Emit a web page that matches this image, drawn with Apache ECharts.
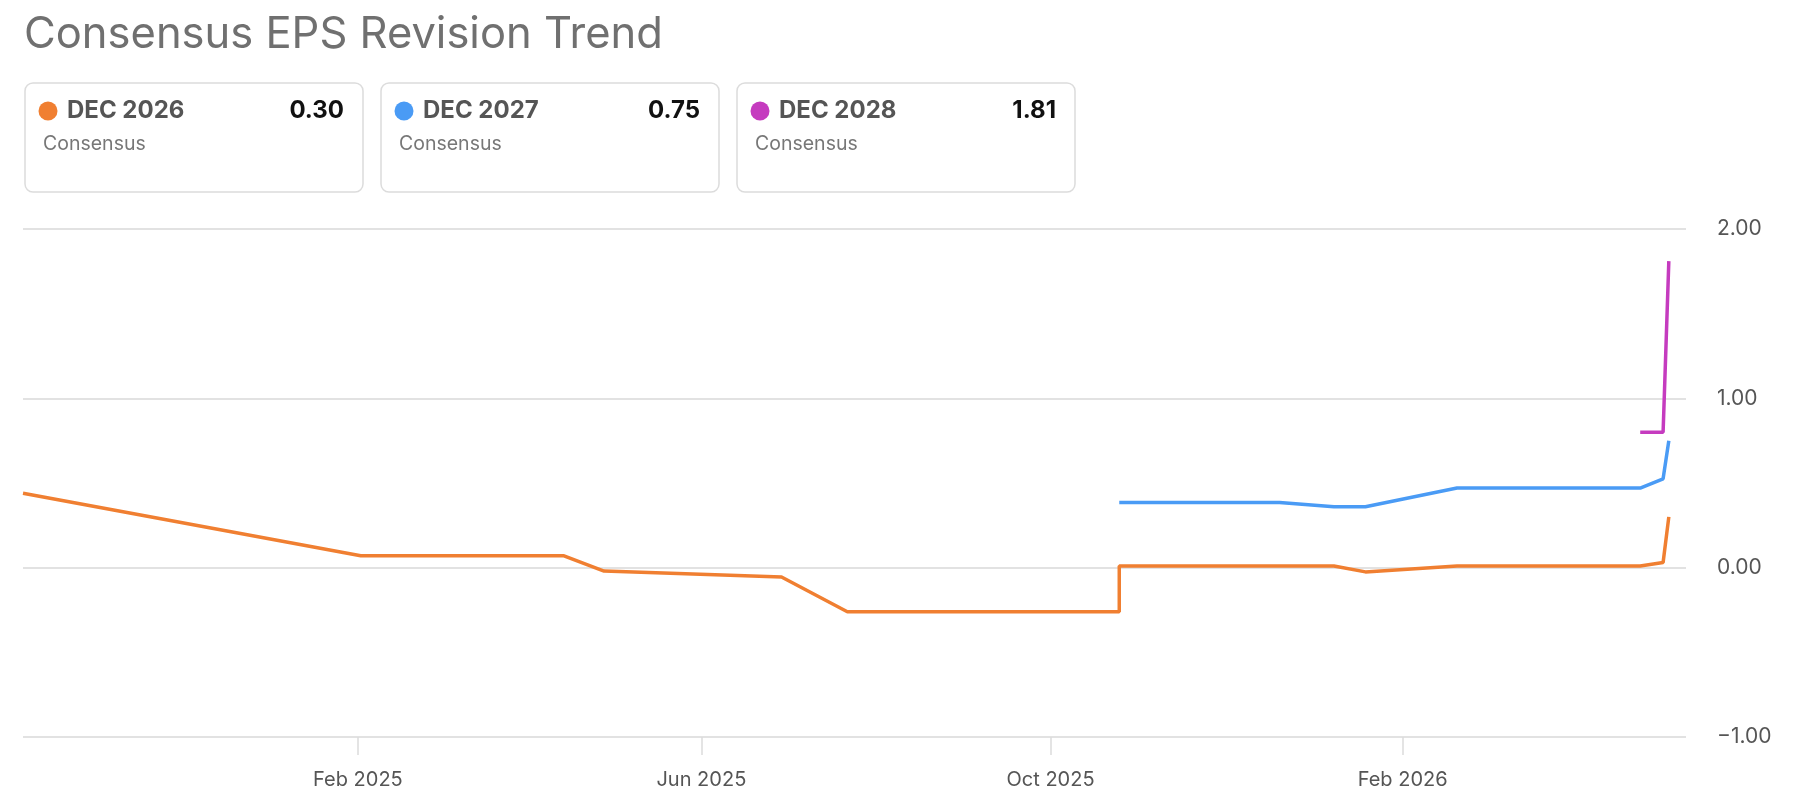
<!DOCTYPE html>
<html>
<head>
<meta charset="utf-8">
<title>Consensus EPS Revision Trend</title>
<script src="https://cdn.jsdelivr.net/npm/echarts@6.0.0/dist/echarts.min.js"></script>
<style>
  html, body { margin: 0; padding: 0; background: #fff; }
  #chart { width: 1802px; height: 802px; }
</style>
</head>
<body>
<div id="chart"></div>
<script>
var seriesNames = ['DEC 2026', 'DEC 2027', 'DEC 2028'];
var seriesColors = ['#f07f31', '#4a9bf5', '#c53bbf'];

// consensus EPS estimates per fiscal year
var dec2026Dates = ['2024-10-07', '2025-02-02', '2025-04-14', '2025-04-28', '2025-06-29', '2025-07-22',
    '2025-10-25', '2025-10-25', '2026-01-08', '2026-01-19', '2026-02-20', '2026-04-25', '2026-05-03', '2026-05-05'];
var dec2026Values = [0.44, 0.07, 0.07, -0.02, -0.055, -0.26, -0.26, 0.01, 0.01, -0.025, 0.01, 0.01, 0.03, 0.30];

var dec2027Dates = ['2025-10-25', '2025-12-20', '2026-01-08', '2026-01-19', '2026-02-20', '2026-04-25', '2026-05-03', '2026-05-05'];
var dec2027Values = [0.385, 0.385, 0.36, 0.36, 0.47, 0.47, 0.525, 0.75];

var dec2028Dates = ['2026-04-25', '2026-05-03', '2026-05-05'];
var dec2028Values = [0.80, 0.80, 1.81];

var tickDates = ['2025-02-01', '2025-06-01', '2025-10-01', '2026-02-01'];
var monthNames = ['Jan', 'Feb', 'Mar', 'Apr', 'May', 'Jun', 'Jul', 'Aug', 'Sep', 'Oct', 'Nov', 'Dec'];
var axisStart = '2024-10-07';
var axisEnd = '2026-05-11';

var FONT = 'Inter, "Noto Sans", sans-serif';

var toTime = function(s){
    var p = s.split('-');
    return new Date(+p[0], +p[1] - 1, +p[2]).getTime();
};
var pairs = function(dates, values){
    return dates.map(function(d, i){ return [toTime(d), values[i]]; });
};

var allDates = [dec2026Dates, dec2027Dates, dec2028Dates];
var allValues = [dec2026Values, dec2027Values, dec2028Values];

// title + the three summary cards
var graphics = [{
    type: 'text', x: 24, y: 35,
    style: { text: 'Consensus EPS Revision Trend', font: '400 43.5px ' + FONT, fill: '#707070', verticalAlign: 'middle' }
}];
for (var i = 0; i < seriesNames.length; i++) {
    var cx = 25 + i * 356, cy = 83;
    var last = allValues[i][allValues[i].length - 1];
    graphics.push(
        { type: 'rect', shape: { x: cx, y: cy, width: 338, height: 109, r: 8 },
          style: { fill: '#fff', stroke: '#dcdcdc', lineWidth: 1.5 } },
        { type: 'circle', shape: { cx: cx + 23, cy: cy + 28, r: 9.5 }, style: { fill: seriesColors[i] } },
        { type: 'text', x: cx + 42, y: cy + 28,
          style: { text: seriesNames[i], font: '700 24px ' + FONT, fill: '#555', verticalAlign: 'middle' } },
        { type: 'text', x: cx + 319, y: cy + 28,
          style: { text: last.toFixed(2), font: '700 24px ' + FONT, fill: '#111', align: 'right', verticalAlign: 'middle' } },
        { type: 'text', x: cx + 18, y: cy + 61,
          style: { text: 'Consensus', font: '400 19.5px ' + FONT, fill: '#777', verticalAlign: 'middle' } }
    );
}

var series = seriesNames.map(function(name, i){
    return {
        name: name,
        type: 'line',
        showSymbol: false,
        symbol: 'none',
        lineStyle: { width: 3.5, color: seriesColors[i] },
        itemStyle: { color: seriesColors[i] },
        data: pairs(allDates[i], allValues[i])
    };
});

var option = {
    animation: false,
    backgroundColor: '#fff',
    graphic: graphics,
    grid: { left: 23, right: 116, top: 229, bottom: 65 },
    xAxis: {
        // timestamps on a value axis so the month ticks can be placed exactly
        type: 'value',
        min: toTime(axisStart),
        max: toTime(axisEnd),
        axisLine: { show: false, onZero: false },
        splitLine: { show: false },
        axisTick: {
            show: true,
            length: 18,
            customValues: tickDates.map(toTime),
            lineStyle: { color: '#dcdcdc', width: 1.5 }
        },
        axisLabel: {
            customValues: tickDates.map(toTime),
            margin: 33,
            fontSize: 20,
            fontFamily: FONT,
            color: '#555',
            formatter: function(v){
                var d = new Date(v);
                return monthNames[d.getMonth()] + ' ' + d.getFullYear();
            }
        }
    },
    yAxis: {
        type: 'value',
        position: 'right',
        min: -1,
        max: 2,
        interval: 1,
        axisLine: { show: false },
        axisTick: { show: false },
        splitLine: { lineStyle: { color: '#d9d9d9', width: 1.5 } },
        axisLabel: {
            align: 'left',
            margin: 31,
            fontSize: 21,
            fontFamily: FONT,
            color: '#555',
            formatter: function(v){ return (v < 0 ? '\u2212' : '') + Math.abs(v).toFixed(2); }
        }
    },
    series: series
};

echarts.init(document.getElementById('chart')).setOption(option);
</script>
</body>
</html>
